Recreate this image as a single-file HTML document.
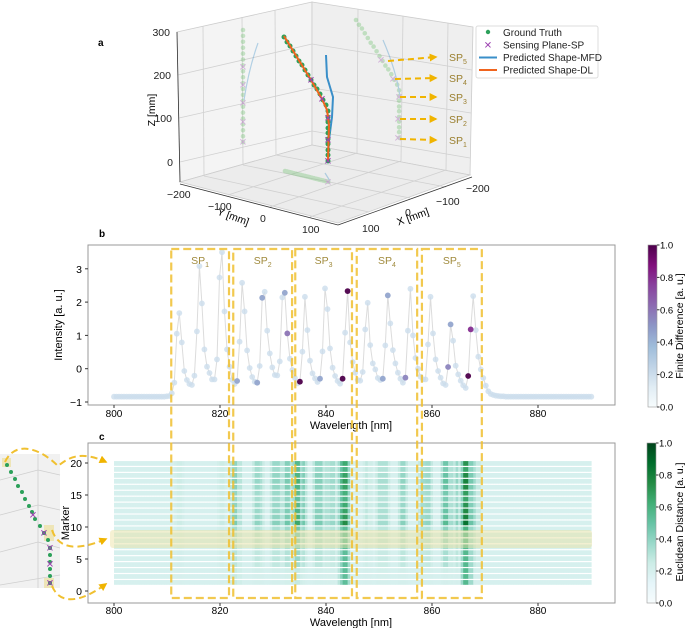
<!DOCTYPE html>
<html><head><meta charset="utf-8">
<style>
html,body{margin:0;padding:0;background:#fff;}
svg{display:block;font-family:"Liberation Sans",sans-serif;}
</style></head>
<body>
<svg id="fig" width="685" height="628" viewBox="0 0 685 628" xmlns="http://www.w3.org/2000/svg">
<defs>
<linearGradient id="bupu" x1="0" y1="1" x2="0" y2="0">
<stop offset="0" stop-color="#f7fcfd"/><stop offset="0.125" stop-color="#e0ecf4"/><stop offset="0.25" stop-color="#bfd3e6"/><stop offset="0.375" stop-color="#9ebcda"/><stop offset="0.5" stop-color="#8c96c6"/><stop offset="0.625" stop-color="#8c6bb1"/><stop offset="0.75" stop-color="#88419d"/><stop offset="0.875" stop-color="#810f7c"/><stop offset="1" stop-color="#4d004b"/>
</linearGradient>
<linearGradient id="bugn" x1="0" y1="1" x2="0" y2="0">
<stop offset="0" stop-color="#f7fcfd"/><stop offset="0.125" stop-color="#e5f5f9"/><stop offset="0.25" stop-color="#ccece6"/><stop offset="0.375" stop-color="#99d8c9"/><stop offset="0.5" stop-color="#66c2a4"/><stop offset="0.625" stop-color="#41ae76"/><stop offset="0.75" stop-color="#238b45"/><stop offset="0.875" stop-color="#006d2c"/><stop offset="1" stop-color="#00441b"/>
</linearGradient>
<marker id="ah" viewBox="0 0 10 10" refX="8" refY="5" markerWidth="4" markerHeight="4" orient="auto"><path d="M0,0 L10,5 L0,10 z" fill="#f0b400"/></marker>
</defs>

<g id="panel-a">
<text x="98" y="46" font-size="10" font-weight="bold">a</text>
<polygon points="177,32 312,2 312,145 180,182" fill="#f4f4f4" stroke="#ccc" stroke-width="0.8"/>
<polygon points="312,2 473,27 470,175 312,145" fill="#efefef" stroke="#ccc" stroke-width="0.8"/>
<polygon points="180,182 312,145 470,175 338,223" fill="#ececec" stroke="#ccc" stroke-width="0.8"/>
<g stroke="#d0d0d0" stroke-width="0.8" fill="none">
<line x1="203" y1="26" x2="204" y2="176"/><line x1="242" y1="17" x2="243" y2="165"/><line x1="275" y1="10" x2="276" y2="155"/>
<line x1="358" y1="9" x2="357" y2="153"/><line x1="403" y1="16" x2="401" y2="161"/><line x1="448" y1="23" x2="446" y2="170"/>
<line x1="178" y1="75" x2="312" y2="44"/><line x1="179" y1="118" x2="312" y2="88"/><line x1="180" y1="162" x2="312" y2="131"/>
<line x1="312" y1="44" x2="472" y2="70"/><line x1="312" y1="88" x2="471" y2="113"/><line x1="312" y1="131" x2="470" y2="158"/>
<line x1="204" y1="176" x2="369" y2="212"/><line x1="243" y1="165" x2="410" y2="198"/><line x1="276" y1="155" x2="446" y2="187"/>
<line x1="357" y1="153" x2="228" y2="195"/><line x1="401" y1="161" x2="270" y2="207"/><line x1="446" y1="170" x2="310" y2="217"/>
</g>
<g stroke="#333" stroke-width="0.8">
<line x1="177" y1="32" x2="180" y2="182"/><line x1="180" y1="184" x2="338" y2="225"/><line x1="338" y1="225" x2="472" y2="177"/>
</g>
<g font-size="10.5" fill="#222">
<text x="170" y="36" text-anchor="end">300</text><text x="171" y="79" text-anchor="end">200</text><text x="172" y="122" text-anchor="end">100</text><text x="173" y="166" text-anchor="end">0</text>
</g>
<text transform="translate(155,110) rotate(-90)" font-size="10.5" text-anchor="middle">Z [mm]</text>
<g font-size="10.5" fill="#222">
<text x="167" y="198">−200</text><text x="208" y="210">−100</text><text x="260" y="222">0</text><text x="302" y="233">100</text>
</g>
<text transform="translate(232,220) rotate(20)" font-size="10.5" text-anchor="middle">Y [mm]</text>
<g font-size="10.5" fill="#222">
<text x="466" y="192">−200</text><text x="436" y="205">−100</text><text x="405" y="216">0</text><text x="362" y="232">100</text>
</g>
<text transform="translate(414,220) rotate(-20)" font-size="10.5" text-anchor="middle">X [mm]</text>
<g id="proj" opacity="0.35"></g>
<polyline points="326,55 327,77 333,97 332,117 329,140 328,161" fill="none" stroke="#3a8fc9" stroke-width="2"/>
<g id="gt"></g>
<polyline points="284,36 311,80 322,99 327,110 329,125 328,161" fill="none" stroke="#f0641e" stroke-width="2"/>
<g id="sp"></g>
<g id="sparrows"></g>
<g>
<rect x="476" y="26" width="122" height="52" fill="#fff" fill-opacity="0.85" stroke="#ddd" rx="2"/>
<circle cx="488" cy="32" r="2.2" fill="#2ca05a"/>
<text x="488" y="48.5" font-size="10" fill="#9b3fb0" text-anchor="middle">✕</text>
<line x1="479" y1="57.5" x2="497" y2="57.5" stroke="#3a8fc9" stroke-width="2"/>
<line x1="479" y1="70" x2="497" y2="70" stroke="#f0641e" stroke-width="2"/>
<g font-size="10" fill="#222"><text x="503" y="36">Ground Truth</text><text x="503" y="48.5">Sensing Plane-SP</text><text x="503" y="61">Predicted Shape-MFD</text><text x="503" y="73.5">Predicted Shape-DL</text></g>
</g>
</g>

<g id="panel-b">
<text x="99" y="237" font-size="10" font-weight="bold">b</text>
<rect x="88" y="245" width="527" height="160" fill="#fff" stroke="#999" stroke-width="1"/>
<g id="b-line"></g><g id="b-pts"></g><g id="b-axes"></g>
<text transform="translate(62,325) rotate(-90)" font-size="11" text-anchor="middle">Intensity [a. u.]</text>
<text x="351" y="429" font-size="11" text-anchor="middle">Wavelength [nm]</text>
<rect x="648" y="245" width="9" height="162" fill="url(#bupu)" stroke="#999" stroke-width="0.6"/>
<g id="cb-b"></g>
<text transform="translate(683,326) rotate(-90)" font-size="10.5" text-anchor="middle">Finite Difference [a. u.]</text>
</g>

<g id="panel-c">
<text x="99" y="440" font-size="10" font-weight="bold">c</text>
<rect x="88" y="443" width="527" height="160" fill="#fff" stroke="#999" stroke-width="1"/>
<g id="c-cells"></g>
<rect x="110" y="530" width="482" height="18" rx="3" fill="#ecdf9e" fill-opacity="0.45"/>
<g id="c-axes"></g>
<text transform="translate(69,523) rotate(-90)" font-size="11" text-anchor="middle">Marker</text>
<text x="351" y="626" font-size="11" text-anchor="middle">Wavelength [nm]</text>
<rect x="647" y="443" width="9" height="160" fill="url(#bugn)" stroke="#999" stroke-width="0.6"/>
<g id="cb-c"></g>
<text transform="translate(683,522) rotate(-90)" font-size="10.5" text-anchor="middle">Euclidean Distance [a. u.]</text>
<g>
<rect x="0" y="454" width="60" height="134" fill="#f1f1f1"/>
<g stroke="#cfcfcf" stroke-width="0.8"><line x1="38" y1="454" x2="38" y2="588"/><line x1="0" y1="480" x2="38" y2="470"/><line x1="0" y1="515" x2="38" y2="505"/><line x1="0" y1="552" x2="38" y2="542"/><line x1="38" y1="470" x2="60" y2="475"/><line x1="38" y1="505" x2="60" y2="510"/><line x1="38" y1="542" x2="60" y2="548"/><line x1="0" y1="585" x2="60" y2="575"/></g>
<rect x="2" y="458" width="9" height="9" fill="#ecdf9e" fill-opacity="0.7"/>
<rect x="44" y="525" width="10" height="16" fill="#ecdf9e" fill-opacity="0.7"/>
<rect x="44" y="578" width="10" height="10" fill="#ecdf9e" fill-opacity="0.7"/>
<g id="inset-dots"></g>
</g>
<g fill="none" stroke="#f0c030" stroke-width="2" stroke-dasharray="7,4">
<path d="M5,462 C15,440 40,448 58,466 C68,458 80,450 106,462" marker-end="url(#ah)"/>
<path d="M52,530 C58,548 75,552 106,539" marker-end="url(#ah)"/>
<path d="M52,586 C60,605 80,603 106,584" marker-end="url(#ah)"/>
</g>
</g>
<g id="sp-boxes"></g>
</svg>

<script>
// ---------- Panel b data ----------
const wlStart = 800;
const wlStep = 0.474;
const intensity = [
-0.84,-0.84,-0.84,-0.84,-0.84,-0.84,-0.84,-0.84,-0.84,-0.84,-0.84,-0.84,-0.84,-0.84,-0.84,-0.84,-0.84,-0.84,-0.84,-0.84,-0.84,-0.83,-0.82,
-0.74,-0.42,1.05,1.67,0.79,-0.07,-0.34,-0.46,-0.49,-0.21,1.12,3.08,1.96,0.58,0.06,-0.13,-0.32,-0.32,0.28,2.74,3.50,1.72,0.58,0.06,-0.34,-0.46,
-0.37,0.81,2.58,1.72,0.55,0.02,-0.25,-0.39,-0.42,0.08,2.13,2.31,1.14,0.46,0.04,-0.19,-0.20,0.22,2.14,2.28,1.06,0.30,-0.04,-0.28,-0.44,-0.39,
0.51,2.16,1.16,0.24,-0.14,-0.29,-0.40,-0.30,0.52,2.41,1.79,0.61,0.03,-0.22,-0.37,-0.45,-0.30,1.08,2.33,0.79,0.20,-0.12,-0.34,-0.36,-0.10,
1.18,1.98,0.71,0.16,-0.02,-0.28,-0.34,-0.30,0.70,2.20,1.36,0.56,0.16,-0.12,-0.30,-0.42,-0.27,1.14,2.40,1.00,0.32,0.00,-0.24,-0.32,-0.32,
0.73,2.16,1.06,0.28,-0.07,-0.27,-0.44,-0.49,0.05,1.33,0.84,0.09,-0.17,-0.36,-0.50,-0.58,-0.22,1.18,2.18,1.16,0.36,-0.02,-0.28,-0.51,-0.68,-0.76,
-0.79,-0.81,-0.82,-0.83,-0.83,-0.84,-0.84,-0.84,-0.84,-0.84,-0.84,-0.84,-0.84,-0.84,-0.84,-0.84,-0.84,-0.84,-0.84,-0.84,
-0.84,-0.84,-0.84,-0.84,-0.84,-0.84,-0.84,-0.84,-0.84,-0.84,-0.84,-0.84,-0.84,-0.84,-0.84,-0.84,-0.84,-0.84,-0.84,-0.84
];
const fdDefault = 0.2;
const fdIndex = [49,57,59,68,69,74,82,91,93,107,109,116,133,134,141,142];
const fdValue = [0.45,0.45,0.45,0.45,0.6,1.0,0.45,1.0,1.0,0.45,0.45,0.55,0.55,0.45,1.0,0.8];
const xTicks = [800,820,840,860,880];
const yTicksB = [-1,0,1,2,3];
const cbTicks = [0.0,0.2,0.4,0.6,0.8,1.0];
const spLabels = ["1","2","3","4","5"];
const spStart = [810.8,822.5,834.2,845.8,858.1];
const spEnd = [821.7,833.6,844.9,857.2,869.4];

// ---------- Panel c data ----------
const markers = [0,1,2,3,4,5,6,7,8,9,10,11,12,13,14,15,16,17,18,19,20];
const yTicksC = [0,5,10,15,20];
const baseDist = 0.2;
const rowWeight = [0.05,0.05,0.1,0.35,0.4,0.4,0.45,0.5,0.55,0.6,1.0,0.9,0.85,0.8,0.7,0.75,0.85,0.9,0.85,0.7,0.8];
const stripeFrom = [812.0,820.0,822.4,826.8,827.4,830.1,832.2,834.3,835.5,838.2,840.0,841.1,842.8,843.4,847.5,850.1,854.3,857.9,858.9,862.4,864.5,866.1,867.9];
const stripeTo   = [812.5,820.5,823.3,827.2,827.8,830.9,832.9,834.9,835.9,839.0,840.4,841.5,843.2,843.9,847.9,851.5,854.8,858.4,859.7,863.1,864.9,866.9,868.3];
const stripeVal  = [0.05,0.06,0.25,0.2,0.15,0.22,0.28,0.45,0.28,0.25,0.15,0.18,0.42,0.55,0.1,0.15,0.22,0.18,0.2,0.35,0.22,0.65,0.18];
const stripePersist = [0,0,0.25,0,0,0,0,0.15,0,0,0,0,0.5,0.6,0,0,0,0,0,0,0,0.55,0];

// ---------- helpers ----------
const NS = "http://www.w3.org/2000/svg";
function mk(tag, attrs, parent){ const e=document.createElementNS(NS,tag); for(const k in attrs) e.setAttribute(k,attrs[k]); parent.appendChild(e); return e; }
function lerpHex(a,b,t){ const pa=[1,3,5].map(i=>parseInt(a.substr(i,2),16)), pb=[1,3,5].map(i=>parseInt(b.substr(i,2),16)); return "rgb("+pa.map((v,i)=>Math.round(v+(pb[i]-v)*t)).join(",")+")"; }
function cmap(stops,v){ v=Math.max(0,Math.min(1,v)); const n=stops.length-1; const i=Math.min(n-1,Math.floor(v*n)); return lerpHex(stops[i],stops[i+1],v*n-i); }
const BUPU=["#f7fcfd","#e0ecf4","#bfd3e6","#9ebcda","#8c96c6","#8c6bb1","#88419d","#810f7c","#4d004b"];
const BUGN=["#f7fcfd","#e5f5f9","#ccece6","#99d8c9","#66c2a4","#41ae76","#238b45","#006d2c","#00441b"];
const xS = wl => 114 + (wl-800)*5.3;
const yB = v => 368.7 - v*33.3;
const yC = v => 591 - v*6.4;

// ---------- Panel b draw ----------
const wls = intensity.map((_,i)=>wlStart+i*wlStep);
const lineG = document.getElementById("b-line");
const pl = mk("polyline",{points:intensity.map((v,i)=>xS(wls[i]).toFixed(1)+","+yB(v).toFixed(1)).join(" "),fill:"none",stroke:"#dcdcdc","stroke-width":1},lineG);


const ptsG = document.getElementById("b-pts");
const order = intensity.map((_,i)=>i).sort((a,b)=>{const fa=fdIndex.indexOf(a)>=0?1:0, fb=fdIndex.indexOf(b)>=0?1:0; return fa-fb;});
order.forEach(i=>{
  const k = fdIndex.indexOf(i);
  const fd = k>=0 ? fdValue[k] : fdDefault;
  const c = mk("circle",{cx:xS(wls[i]).toFixed(1),cy:yB(intensity[i]).toFixed(1),r:2.9,fill:cmap(BUPU,fd),"fill-opacity":k>=0?0.95:0.8},ptsG);
  
  
});
const axB = document.getElementById("b-axes");
xTicks.forEach(t=>{
  mk("line",{x1:xS(t),x2:xS(t),y1:405,y2:408,stroke:"#333"},axB);
  const tx = mk("text",{x:xS(t),y:417,"font-size":10,"text-anchor":"middle"},axB); tx.textContent=t;
  
  
});
yTicksB.forEach(t=>{
  mk("line",{x1:85,x2:88,y1:yB(t),y2:yB(t),stroke:"#333"},axB);
  const tx = mk("text",{x:82,y:yB(t)+4,"font-size":10.5,"text-anchor":"end"},axB); tx.textContent=(t<0?"−":"")+Math.abs(t);
  
  
});
[["cb-b",245,407,657],["cb-c",443,603,656]].forEach(([id,y0,y1,x])=>{
  const g=document.getElementById(id);
  cbTicks.forEach(t=>{
    const y=y1-(y1-y0)*t;
    mk("line",{x1:x,x2:x+2.5,y1:y,y2:y,stroke:"#333"},g);
    const tx=mk("text",{x:x+3,y:y+3.5,"font-size":9.5},g); tx.textContent=t.toFixed(1);
    
    
  });
});

// ---------- Panel c draw ----------
const cellG = document.getElementById("c-cells");
const rowTop0 = yC(20.3), rowH = (yC(0.78)-yC(20.3))/21;
const nBins = Math.round((890-800)/wlStep);
markers.forEach(r=>{
  const top = rowTop0 + (20-r)*rowH;
  for(let b=0;b<nBins;b++){
    const w0 = 800 + b*wlStep, wm = w0 + wlStep/2;
    let v = baseDist;
    stripeFrom.forEach((s,k)=>{
      const amp = stripeVal[k]*Math.max(rowWeight[r], stripePersist[k]);
      if(wm>=s-0.15 && wm<=stripeTo[k]+0.15) v = Math.max(v, baseDist + amp);
      else if(wm>=s-0.7 && wm<=stripeTo[k]+0.7) v = Math.max(v, baseDist + amp*0.45);
    });
    const c = mk("rect",{x:xS(w0).toFixed(2),y:top.toFixed(2),width:(wlStep*5.3+0.3).toFixed(2),height:(rowH-1.2).toFixed(2),fill:cmap(BUGN,v)},cellG);
    
    
  }
});
const axC = document.getElementById("c-axes");
xTicks.forEach(t=>{
  mk("line",{x1:xS(t),x2:xS(t),y1:603,y2:606,stroke:"#333"},axC);
  const tx = mk("text",{x:xS(t),y:614,"font-size":10,"text-anchor":"middle"},axC); tx.textContent=t;
  
  
});
yTicksC.forEach(t=>{
  mk("line",{x1:85,x2:88,y1:yC(t),y2:yC(t),stroke:"#333"},axC);
  const tx = mk("text",{x:82,y:yC(t)+4,"font-size":10.5,"text-anchor":"end"},axC); tx.textContent=t;
  
  
});

// ---------- SP dashed boxes spanning b & c ----------
const boxG = document.getElementById("sp-boxes");
spStart.forEach((s,k)=>{
  const r = mk("rect",{x:xS(s),y:249,width:xS(spEnd[k])-xS(s),height:349,fill:"none",stroke:"#f0c030","stroke-opacity":0.85,"stroke-width":2.2,"stroke-dasharray":"8,4"},boxG);
  
  
  const t = mk("text",{x:(xS(s)+xS(spEnd[k]))/2,y:264,"font-size":10.5,fill:"#a08a3c","text-anchor":"middle"},boxG);
  
  
  t.textContent = "SP";
  const ts = mk("tspan",{"font-size":7,dy:3},t); ts.textContent = spLabels[k];
});

// ---------- Panel a marks ----------
const gtPts = [[284,37],[287,42],[290,46],[293,51],[296,56],[299,61],[302,65],[305,70],[308,75],[311,80],[314,85],[317,89],[320,94],[323,100],[326,105],[328,111],[328,117],[328,122],[328,128],[328,133],[328,139],[328,144],[328,150],[328,155],[328,161]];
const spPts = [[311,80],[322,99],[328,118],[328,140],[328,161]];
const gtG=document.getElementById("gt");
gtPts.forEach(p=>{ const c=mk("circle",{cx:p[0],cy:p[1],r:2.5,fill:"#2ca05a"},gtG);
  
   });
const spG=document.getElementById("sp");
spPts.forEach(p=>{ const t=mk("text",{x:p[0],y:p[1]+3.5,"font-size":10,fill:"#9b3fb0","text-anchor":"middle"},spG); t.textContent="✕";
  
   });
const pj=document.getElementById("proj");
const leftProj=[], rightProj=[], floorProj=[];
for(let i=0;i<20;i++) leftProj.push([243,30+i*5.9]);
gtPts.forEach((p,i)=>{ rightProj.push([356+(p[0]-284)*0.98, 20+(p[1]-37)*0.95]); floorProj.push([285+i*1.8,171+i*0.45]); });
[leftProj,rightProj,floorProj].forEach(arr=>arr.forEach(p=>{ const c=mk("circle",{cx:p[0].toFixed(1),cy:p[1].toFixed(1),r:2.3,fill:"#6cbf6c"},pj);
  
   }));
mk("path",{d:"M258,43 Q249,68 244,100",fill:"none",stroke:"#3a8fc9","stroke-width":1.2},pj);
mk("path",{d:"M383,40 Q396,70 400,96",fill:"none",stroke:"#3a8fc9","stroke-width":1.2},pj);
mk("path",{d:"M325,173 L330,181",fill:"none",stroke:"#3a8fc9","stroke-width":1.2},pj);
[[243,67],[243,85],[243,103],[243,122],[243,142],[381,60],[393,79],[399,97],[398,119],[398,138],[328,182]].forEach(p=>{
  const t=mk("text",{x:p[0],y:p[1]+3.5,"font-size":10,fill:"#9b3fb0","text-anchor":"middle"},pj); t.textContent="✕";
  
  
});
const arG=document.getElementById("sparrows");
const arrowY=[[388,61,57],[395,79,78],[400,97,97],[400,119,119],[400,139,140]];
arrowY.forEach((a,k)=>{
  const l=mk("line",{x1:a[0],y1:a[1],x2:436,y2:a[2],stroke:"#f0b400","stroke-width":2,"stroke-dasharray":"6,4","marker-end":"url(#ah)"},arG);
  
  
  const t=mk("text",{x:449,y:a[2]+4,"font-size":10.5,fill:"#9a7f2e"},arG);
  t.textContent="SP";
  const ts=mk("tspan",{"font-size":7,dy:3},t); ts.textContent=spLabels[4-k];
  
  
});
const insetDots=[[7,465],[11,472],[15,479],[18,486],[22,492],[25,499],[29,506],[32,512],[35,519],[40,526],[44,533],[48,540],[50,548],[50,555],[50,562],[50,569],[50,576],[50,583]];
const insetSP=[[33,515],[44,533],[50,548],[50,564],[50,583]];
const ig=document.getElementById("inset-dots");
insetDots.forEach(p=>{ const c=mk("circle",{cx:p[0],cy:p[1],r:2,fill:"#2ca05a"},ig);
  
   });
insetSP.forEach(p=>{ const t=mk("text",{x:p[0],y:p[1]+3.5,"font-size":10,fill:"#9b3fb0","text-anchor":"middle"},ig); t.textContent="✕";
  
   });
</script>
</body></html>
